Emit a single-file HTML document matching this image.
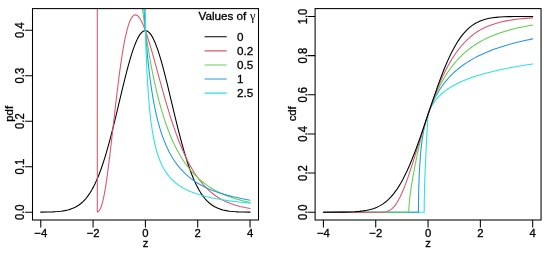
<!DOCTYPE html>
<html><head><meta charset="utf-8"><title>Lambert W x Gaussian pdf and cdf</title>
<style>
html,body{margin:0;padding:0;background:#fff;}
svg{display:block;}
text{font-family:"Liberation Sans",sans-serif;font-size:11.3px;fill:#000;stroke:#000;stroke-width:0.3;}
.lg{font-size:11.7px;}
.ax{stroke:#000;stroke-width:1.05;fill:none;stroke-linecap:butt;}
.cv{fill:none;stroke-width:1.08;stroke-linejoin:round;stroke-linecap:round;}
.g{font-family:"Liberation Serif",serif;font-size:12.5px;stroke:none;}
</style></head><body>
<svg width="550" height="256" viewBox="0 0 550 256">
<rect width="550" height="256" fill="#fff"/>
<defs>
<clipPath id="cl"><rect x="32.5" y="8.6" width="226.0" height="211.4"/></clipPath>
<clipPath id="cr"><rect x="315.1" y="8.6" width="225.94999999999993" height="211.4"/></clipPath>
</defs>

<g clip-path="url(#cl)">
<path class="cv" stroke="#000000" d="M40.76 212.14L47.43 212.04L52.79 211.86L57.24 211.58L61.16 211.18L64.70 210.64L67.84 209.96L70.71 209.12L73.46 208.06L76.08 206.78L78.56 205.26L80.92 203.50L83.27 201.38L85.49 199.01L87.59 196.41L89.68 193.41L91.77 189.99L93.60 186.63L95.43 182.90L97.27 178.79L99.10 174.29L100.80 169.76L102.63 164.50L104.46 158.85L106.29 152.81L109.43 141.65L112.83 128.56L115.97 115.77L123.16 85.69L126.56 72.10L128.27 65.69L129.83 60.10L131.40 54.85L132.84 50.40L134.54 45.62L136.11 41.73L137.68 38.37L139.25 35.59L140.04 34.42L140.82 33.40L141.61 32.54L142.39 31.84L143.18 31.30L143.96 30.92L144.75 30.70L145.40 30.64L146.05 30.70L146.84 30.92L147.62 31.30L148.41 31.84L149.19 32.54L149.98 33.40L150.76 34.42L151.55 35.59L153.12 38.37L154.69 41.73L156.26 45.62L157.96 50.40L159.40 54.85L160.97 60.10L162.53 65.69L164.24 72.10L167.64 85.69L174.83 115.77L177.97 128.56L181.37 141.65L184.51 152.81L186.34 158.85L188.17 164.50L190.00 169.76L191.70 174.29L193.53 178.79L195.37 182.90L197.20 186.63L199.03 189.99L201.12 193.41L203.21 196.41L205.31 199.01L207.53 201.38L209.88 203.50L212.24 205.26L214.72 206.78L217.34 208.06L220.09 209.12L222.96 209.96L226.10 210.64L229.64 211.18L233.56 211.58L238.01 211.86L243.37 212.04L250.04 212.14"/>
<path class="cv" stroke="#DF536B" d="M97.28 -60.00L97.30 212.05L97.43 212.06L97.78 211.92L98.42 211.49L98.97 210.95L99.49 210.26L100.01 209.39L100.54 208.31L101.58 205.53L102.63 201.88L103.67 197.33L104.72 191.91L105.77 185.68L107.47 174.01L109.43 158.64L111.26 143.06L116.10 100.49L118.85 78.05L120.29 67.34L121.73 57.51L123.03 49.42L124.34 42.17L125.65 35.78L126.96 30.28L128.27 25.65L128.92 23.66L129.70 21.56L130.36 20.04L131.01 18.72L131.67 17.60L132.45 16.52L133.10 15.82L133.89 15.24L134.54 14.95L135.33 14.82L135.85 14.87L136.37 15.03L136.90 15.28L137.55 15.73L138.73 16.90L139.91 18.51L141.08 20.51L142.39 23.15L143.70 26.18L145.01 29.57L147.49 36.79L150.24 45.72L153.38 56.71L161.36 85.87L165.15 99.32L169.34 113.35L171.43 119.97L173.39 125.90L175.75 132.67L177.97 138.71L180.32 144.71L182.68 150.32L185.03 155.55L187.39 160.41L189.74 164.91L192.23 169.29L194.97 173.71L197.72 177.72L200.60 181.51L203.48 184.92L206.48 188.11L209.62 191.06L212.89 193.77L216.29 196.23L219.83 198.46L223.49 200.45L227.28 202.22L231.34 203.82L235.65 205.25L240.10 206.48L244.94 207.56L250.04 208.49"/>
<path class="cv" stroke="#61D04F" d="M126.15 -60.00L135.33 -60.00L135.46 -59.19L137.42 -37.42L138.99 -21.70L140.82 -4.97L142.65 10.25L144.75 26.03L146.84 40.29L149.06 53.99L151.29 66.36L153.77 78.81L156.26 89.98L158.87 100.53L161.62 110.43L164.50 119.69L165.94 123.94L167.51 128.30L169.07 132.41L170.64 136.27L172.21 139.92L173.91 143.63L175.48 146.85L177.05 149.90L178.62 152.77L180.32 155.71L182.02 158.48L183.72 161.08L185.56 163.72L187.39 166.20L189.22 168.53L191.18 170.87L193.14 173.06L195.10 175.12L197.20 177.18L199.29 179.10L201.51 181.00L203.74 182.78L205.96 184.44L208.31 186.08L210.80 187.68L213.29 189.18L215.90 190.63L218.52 191.98L221.26 193.29L224.01 194.51L226.89 195.68L229.90 196.81L233.04 197.90L236.18 198.90L242.85 200.76L250.04 202.44"/>
<path class="cv" stroke="#2297E6" d="M135.78 -60.00L141.61 -60.00L141.74 -56.71L142.39 -31.37L143.05 -12.08L143.83 5.40L144.88 23.07L146.18 40.92L146.97 50.11L147.75 58.39L148.54 65.89L149.45 73.81L150.37 80.96L151.29 87.45L152.72 96.54L154.29 105.17L155.99 113.29L157.70 120.40L159.53 127.11L161.62 133.81L163.71 139.66L166.07 145.41L167.51 148.57L168.94 151.48L170.38 154.19L171.95 156.92L173.52 159.45L175.22 161.99L176.92 164.33L178.75 166.67L180.59 168.83L182.55 170.98L184.51 172.96L186.60 174.91L188.83 176.83L191.05 178.59L193.40 180.32L195.76 181.92L198.24 183.47L200.86 184.98L203.61 186.44L206.35 187.78L209.36 189.14L212.37 190.39L215.51 191.58L218.78 192.73L222.18 193.82L225.71 194.87L229.37 195.86L233.17 196.80L241.28 198.57L250.04 200.17"/>
<path class="cv" stroke="#28E2E5" d="M141.55 -60.00L145.27 -60.00L145.40 30.64L146.18 54.03L146.97 71.71L147.89 87.65L148.93 101.73L149.85 111.57L150.89 120.78L152.07 129.25L153.38 136.95L154.82 143.89L156.39 150.11L157.30 153.23L158.22 156.05L159.13 158.62L160.18 161.28L161.36 163.97L162.53 166.39L163.84 168.81L165.15 171.00L166.59 173.16L168.03 175.11L169.60 177.03L171.17 178.77L172.87 180.47L174.70 182.12L176.66 183.72L178.62 185.16L180.72 186.55L182.94 187.88L185.29 189.16L187.65 190.31L190.26 191.47L193.01 192.57L195.89 193.61L198.90 194.59L202.04 195.51L205.44 196.41L208.97 197.26L212.63 198.05L220.61 199.53L229.50 200.88L239.31 202.08L250.04 203.15"/>
</g>
<rect class="ax" x="32.5" y="8.6" width="226.00" height="211.40"/>
<text x="40.76" y="237.1" text-anchor="middle">−4</text>
<text x="93.08" y="237.1" text-anchor="middle">−2</text>
<text x="145.40" y="237.1" text-anchor="middle">0</text>
<text x="197.72" y="237.1" text-anchor="middle">2</text>
<text x="250.04" y="237.1" text-anchor="middle">4</text>
<text transform="translate(24.00 212.20) scale(1.13 1) rotate(-90)" text-anchor="middle">0.0</text>
<text transform="translate(24.00 166.69) scale(1.13 1) rotate(-90)" text-anchor="middle">0.1</text>
<text transform="translate(24.00 121.18) scale(1.13 1) rotate(-90)" text-anchor="middle">0.2</text>
<text transform="translate(24.00 75.67) scale(1.13 1) rotate(-90)" text-anchor="middle">0.3</text>
<text transform="translate(24.00 30.16) scale(1.13 1) rotate(-90)" text-anchor="middle">0.4</text>
<path class="ax" d="M40.76 220.0v7.4M93.08 220.0v7.4M145.40 220.0v7.4M197.72 220.0v7.4M250.04 220.0v7.4M32.5 212.20h-7.4M32.5 166.69h-7.4M32.5 121.18h-7.4M32.5 75.67h-7.4M32.5 30.16h-7.4"/>
<text x="145.50" y="246.8" text-anchor="middle">z</text>
<text transform="translate(13.40 113.80) rotate(-90)" text-anchor="middle">pdf</text>
<text class="lg" x="198.5" y="19.5">Values of<tspan class="g" dx="3.6">γ</tspan></text>
<path class="cv" stroke="#000000" stroke-linecap="butt" d="M205 36.75H226.3"/>
<text class="lg" x="237" y="40.65">0</text>
<path class="cv" stroke="#DF536B" stroke-linecap="butt" d="M205 50.85H226.3"/>
<text class="lg" x="237" y="54.75">0.2</text>
<path class="cv" stroke="#61D04F" stroke-linecap="butt" d="M205 64.95H226.3"/>
<text class="lg" x="237" y="68.85">0.5</text>
<path class="cv" stroke="#2297E6" stroke-linecap="butt" d="M205 79.05H226.3"/>
<text class="lg" x="237" y="82.95">1</text>
<path class="cv" stroke="#28E2E5" stroke-linecap="butt" d="M205 93.15H226.3"/>
<text class="lg" x="237" y="97.05">2.5</text>
<g clip-path="url(#cr)">
<path class="cv" stroke="#28E2E5" d="M323.41 212.20L424.20 212.20L424.25 202.55L424.42 192.76L424.69 182.37L425.04 172.71L426.18 148.25L427.66 120.60L428.05 114.32L429.36 110.83L430.93 107.44L432.76 104.20L434.72 101.29L436.03 99.59L437.47 97.90L438.91 96.35L440.48 94.81L442.18 93.27L443.88 91.86L445.84 90.36L447.80 88.98L449.89 87.62L452.12 86.27L454.47 84.96L456.83 83.73L462.06 81.29L467.68 79.00L473.83 76.80L480.50 74.71L487.69 72.71L495.54 70.78L503.91 68.95L512.81 67.22L522.36 65.55L532.69 63.92"/>
<path class="cv" stroke="#2297E6" d="M323.41 212.20L418.43 212.20L418.50 200.20L418.74 188.39L419.14 176.64L419.67 166.19L420.33 156.73L421.12 148.22L422.03 140.61L423.08 133.89L423.73 130.42L424.39 127.35L425.83 121.62L427.66 115.51L429.75 109.55L430.93 106.56L432.10 103.79L434.59 98.51L435.90 96.01L437.34 93.43L440.21 88.78L441.78 86.47L443.48 84.13L445.32 81.78L447.15 79.59L448.98 77.53L450.94 75.47L453.03 73.40L455.13 71.47L457.35 69.54L459.57 67.74L461.93 65.94L464.28 64.26L466.77 62.59L469.38 60.94L472.00 59.39L474.75 57.86L477.62 56.35L480.50 54.94L486.65 52.19L493.19 49.61L500.12 47.19L507.58 44.90L515.42 42.77L523.80 40.77L532.69 38.89"/>
<path class="cv" stroke="#61D04F" d="M323.41 212.20L408.80 212.20L408.86 208.88L409.04 205.45L409.34 201.72L409.75 197.94L411.05 188.36L413.01 176.36L415.36 163.74L417.85 151.87L420.46 140.71L423.21 130.22L425.83 121.26L428.44 113.16L431.32 105.14L434.20 97.94L437.21 91.16L438.78 87.91L440.48 84.57L442.18 81.43L443.88 78.46L445.58 75.66L447.41 72.81L449.11 70.32L450.94 67.78L452.77 65.39L454.60 63.13L456.43 61.00L458.40 58.84L460.36 56.81L462.45 54.77L464.54 52.86L466.77 50.95L468.99 49.16L471.21 47.48L473.57 45.82L475.92 44.26L478.41 42.72L480.89 41.28L483.51 39.86L486.13 38.54L488.87 37.25L491.62 36.05L497.50 33.74L503.65 31.67L510.19 29.77L517.26 28.03L524.71 26.48L532.69 25.08"/>
<path class="cv" stroke="#DF536B" d="M323.41 212.20L379.93 212.20L383.05 212.13L384.49 212.00L385.80 211.79L386.98 211.49L388.16 211.08L389.33 210.53L390.38 209.90L391.43 209.14L392.47 208.24L394.04 206.60L395.61 204.61L397.18 202.26L398.75 199.55L400.32 196.49L402.02 192.82L403.72 188.78L405.42 184.42L408.30 176.42L411.57 166.58L414.71 156.66L423.08 129.66L428.18 113.93L430.80 106.31L433.28 99.39L435.77 92.82L438.25 86.61L440.48 81.37L442.83 76.15L445.18 71.25L447.54 66.69L449.89 62.44L452.38 58.29L454.86 54.46L457.35 50.94L460.62 46.75L463.89 43.03L467.29 39.60L470.82 36.47L474.48 33.65L476.45 32.30L478.41 31.05L480.37 29.89L482.46 28.75L486.65 26.75L491.10 24.97L495.80 23.40L500.77 22.06L506.14 20.90L511.89 19.91L518.17 19.08L525.10 18.40L532.69 17.85"/>
<path class="cv" stroke="#000000" d="M323.41 212.19L343.16 212.09L349.44 211.94L354.54 211.72L359.25 211.36L363.30 210.90L367.10 210.26L370.50 209.48L373.90 208.44L377.17 207.13L380.18 205.62L383.05 203.84L385.80 201.79L388.55 199.37L391.16 196.68L393.78 193.58L396.13 190.43L398.36 187.11L400.58 183.45L402.81 179.46L405.03 175.12L407.25 170.45L409.48 165.44L411.83 159.81L415.75 149.72L419.94 138.15L423.86 126.77L433.54 98.05L438.51 83.90L441.00 77.19L443.48 70.79L445.84 65.05L448.19 59.64L450.68 54.33L453.03 49.69L455.39 45.42L457.87 41.34L460.36 37.67L462.84 34.41L465.33 31.54L467.94 28.91L470.30 26.86L472.65 25.08L475.14 23.48L477.62 22.14L480.24 20.96L483.12 19.90L486.13 19.04L489.26 18.34L492.40 17.81L495.94 17.38L499.86 17.04L504.18 16.80L509.02 16.64L514.77 16.54L532.69 16.46"/>
</g>
<rect class="ax" x="315.1" y="8.6" width="225.95" height="211.40"/>
<text x="323.41" y="237.1" text-anchor="middle">−4</text>
<text x="375.73" y="237.1" text-anchor="middle">−2</text>
<text x="428.05" y="237.1" text-anchor="middle">0</text>
<text x="480.37" y="237.1" text-anchor="middle">2</text>
<text x="532.69" y="237.1" text-anchor="middle">4</text>
<text transform="translate(306.60 212.20) scale(1.13 1) rotate(-90)" text-anchor="middle">0.0</text>
<text transform="translate(306.60 173.05) scale(1.13 1) rotate(-90)" text-anchor="middle">0.2</text>
<text transform="translate(306.60 133.90) scale(1.13 1) rotate(-90)" text-anchor="middle">0.4</text>
<text transform="translate(306.60 94.75) scale(1.13 1) rotate(-90)" text-anchor="middle">0.6</text>
<text transform="translate(306.60 55.60) scale(1.13 1) rotate(-90)" text-anchor="middle">0.8</text>
<text transform="translate(306.60 16.45) scale(1.13 1) rotate(-90)" text-anchor="middle">1.0</text>
<path class="ax" d="M323.41 220.0v7.4M375.73 220.0v7.4M428.05 220.0v7.4M480.37 220.0v7.4M532.69 220.0v7.4M315.1 212.20h-7.4M315.1 173.05h-7.4M315.1 133.90h-7.4M315.1 94.75h-7.4M315.1 55.60h-7.4M315.1 16.45h-7.4"/>
<text x="428.07" y="246.8" text-anchor="middle">z</text>
<text transform="translate(296.00 113.80) rotate(-90)" text-anchor="middle">cdf</text>
</svg></body></html>
